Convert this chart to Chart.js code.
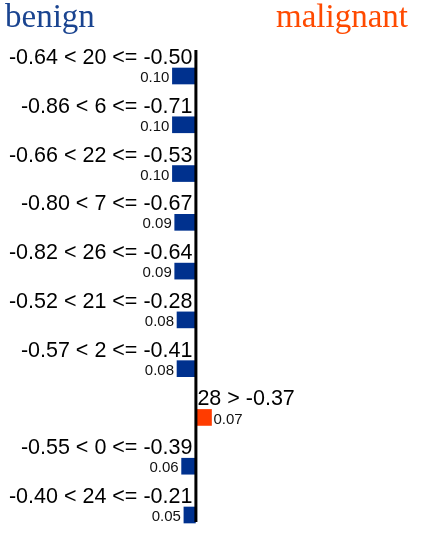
<!DOCTYPE html>
<html>
<head>
<meta charset="utf-8">
<script src="https://cdn.jsdelivr.net/npm/chart.js@4"></script>
<style>
  html, body { margin: 0; padding: 0; background: #fff; }
  #wrap { width: 423px; height: 533px; position: relative; }
</style>
</head>
<body>
<div id="wrap"><canvas id="lime"></canvas></div>
<script>
const features = [
  "-0.64 < 20 <= -0.50",
  "-0.86 < 6 <= -0.71",
  "-0.66 < 22 <= -0.53",
  "-0.80 < 7 <= -0.67",
  "-0.82 < 26 <= -0.64",
  "-0.52 < 21 <= -0.28",
  "-0.57 < 2 <= -0.41",
  "28 > -0.37",
  "-0.55 < 0 <= -0.39",
  "-0.40 < 24 <= -0.21",
];
const weights = [-0.10, -0.10, -0.10, -0.09, -0.09, -0.08, -0.08, 0.07, -0.06, -0.05];
const classNames = ["benign", "malignant"];

const blue = "#00318e";
const orange = "#ff3c00";

// labels, axis line and class names
const limeText = {
  id: "limeText",
  afterDatasetsDraw(chart) {
    const ctx = chart.ctx;
    const x = chart.scales.x;
    const area = chart.chartArea;
    const x0 = x.getPixelForValue(0);
    const bars = chart.getDatasetMeta(0).data;

    ctx.save();
    ctx.fillStyle = "#000";
    ctx.fillRect(x0 - 1, area.top - 26, 3, area.bottom - area.top + 33);

    bars.forEach((bar, i) => {
      const v = weights[i];
      const neg = v < 0;
      ctx.fillStyle = "#000";
      ctx.font = "21.5px 'Liberation Sans', Arial, sans-serif";
      ctx.textBaseline = "alphabetic";
      ctx.textAlign = neg ? "right" : "left";
      ctx.fillText(features[i], neg ? x0 - 3 : x0 + 2, bar.y - 12);

      ctx.font = "15px 'Liberation Sans', Arial, sans-serif";
      ctx.fillStyle = "#111";
      ctx.textBaseline = "middle";
      const end = x.getPixelForValue(v);
      ctx.fillText(Math.abs(v).toFixed(2), neg ? end - 3 : end + 2, bar.y + 2);
    });

    ctx.font = "33px 'Liberation Serif', 'Times New Roman', serif";
    ctx.textBaseline = "alphabetic";
    ctx.textAlign = "left";
    ctx.fillStyle = "#1a4490";
    ctx.fillText(classNames[0], 5, 27);
    ctx.textAlign = "right";
    ctx.fillStyle = "#ff4a00";
    ctx.fillText(classNames[1], 408, 27);
    ctx.restore();
  },
};

new Chart(document.getElementById("lime"), {
  type: "bar",
  data: {
    labels: features,
    datasets: [
      {
        data: weights,
        backgroundColor: weights.map((v) => (v < 0 ? blue : orange)),
        barThickness: 16,
        borderWidth: 0,
        clip: false,
      },
    ],
  },
  options: {
    indexAxis: "y",
    responsive: true,
    maintainAspectRatio: false,
    animation: false,
    layout: { padding: { top: 76, bottom: 18, left: 0, right: 0 } },
    scales: {
      x: { display: false, min: -0.85, max: 0.99 },
      y: { display: false, offset: false },
    },
    plugins: {
      legend: { display: false },
      tooltip: { enabled: false },
    },
  },
  plugins: [limeText],
});
</script>
</body>
</html>
